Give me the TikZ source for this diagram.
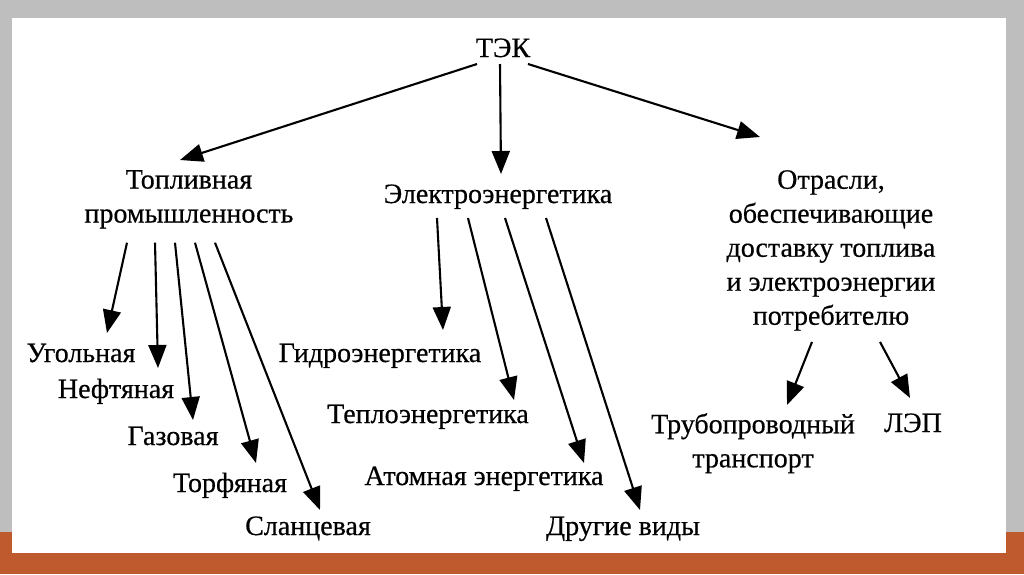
\documentclass[tikz,border=0pt]{standalone}
\usepackage{fontspec}
\setmainfont[FakeBold=0.5]{Liberation Serif}
\usepackage{tikz}
\usetikzlibrary{arrows.meta,positioning,calc}
\definecolor{slidegrey}{RGB}{190,190,190}
\definecolor{slideorange}{RGB}{190,90,45}

\begin{document}
\begin{tikzpicture}[x=1pt,y=-1pt,
  lbl/.style={inner sep=0pt,anchor=base,font=\fontsize{28}{34}\selectfont},
  blk/.style={inner sep=0pt,anchor=north,align=center,font=\fontsize{28}{34}\selectfont},
  arr/.style={-{Triangle[length=23pt,width=18pt]},line width=2.1pt}
]
% Slide
\useasboundingbox (0,0) rectangle (1024,574);
\fill[slidegrey] (0,0) rectangle (1024,574);
\fill[slideorange] (0,532) rectangle (1024,574);
\fill[white] (12,18) rectangle (1006,553);

% Nodes
\node[lbl] (tek)     at (503,57)  {ТЭК};
\node[blk] (fuel)    at (189,170) {Топливная\\промышленность};
\node[lbl] (power)   at (498,203) {Электроэнергетика};
\node[blk] (supply)  at (831,170) {Отрасли,\\обеспечивающие\\доставку топлива\\и электроэнергии\\потребителю};
\node[lbl] (coal)    at (81,362)  {Угольная};
\node[lbl] (oil)     at (116,398) {Нефтяная};
\node[lbl] (gas)     at (173,445) {Газовая};
\node[lbl] (peat)    at (230,492) {Торфяная};
\node[lbl] (shale)   at (308,535) {Сланцевая};
\node[lbl] (hydro)   at (380,362) {Гидроэнергетика};
\node[lbl] (thermal) at (428,423) {Теплоэнергетика};
\node[lbl] (nuclear) at (484,485) {Атомная энергетика};
\node[lbl] (other)   at (623,535) {Другие виды};
\node[blk] (pipe)    at (753,413) {Трубопроводный\\транспорт};
\node[lbl] (lep)     at (913,432) {ЛЭП};

% Arrows
\draw[arr] ([shift={(-26,7)}]tek.base) -- ([shift={(-9,-10)}]fuel.north);
\draw[arr] ([shift={(-3,7)}]tek.base)  -- ([shift={(3,-29)}]power.base);
\draw[arr] ([shift={(25,7)}]tek.base)  -- ([shift={(-71,-33)}]supply.north);

\draw[arr] ([shift={(-62,14)}]fuel.south) -- ([shift={(26,-29)}]coal.base);
\draw[arr] ([shift={(-34,14)}]fuel.south) -- ([shift={(42,-30)}]oil.base);
\draw[arr] ([shift={(-14,14)}]fuel.south) -- ([shift={(20,-25)}]gas.base);
\draw[arr] ([shift={(6,14)}]fuel.south)   -- ([shift={(26,-29)}]peat.base);
\draw[arr] ([shift={(26,14)}]fuel.south)  -- ([shift={(12,-25)}]shale.base);

\draw[arr] ([shift={(-61,15)}]power.base) -- ([shift={(63,-32)}]hydro.base);
\draw[arr] ([shift={(-30,15)}]power.base) -- ([shift={(86,-23)}]thermal.base);
\draw[arr] ([shift={(7,15)}]power.base)   -- ([shift={(100,-22)}]nuclear.base);
\draw[arr] ([shift={(48,15)}]power.base)  -- ([shift={(17,-25)}]other.base);

\draw[arr] ([shift={(-19,11)}]supply.south) -- ([shift={(34,-8)}]pipe.north);
\draw[arr] ([shift={(49,11)}]supply.south)  -- ([shift={(-3,-34)}]lep.base);
\end{tikzpicture}
\end{document}
